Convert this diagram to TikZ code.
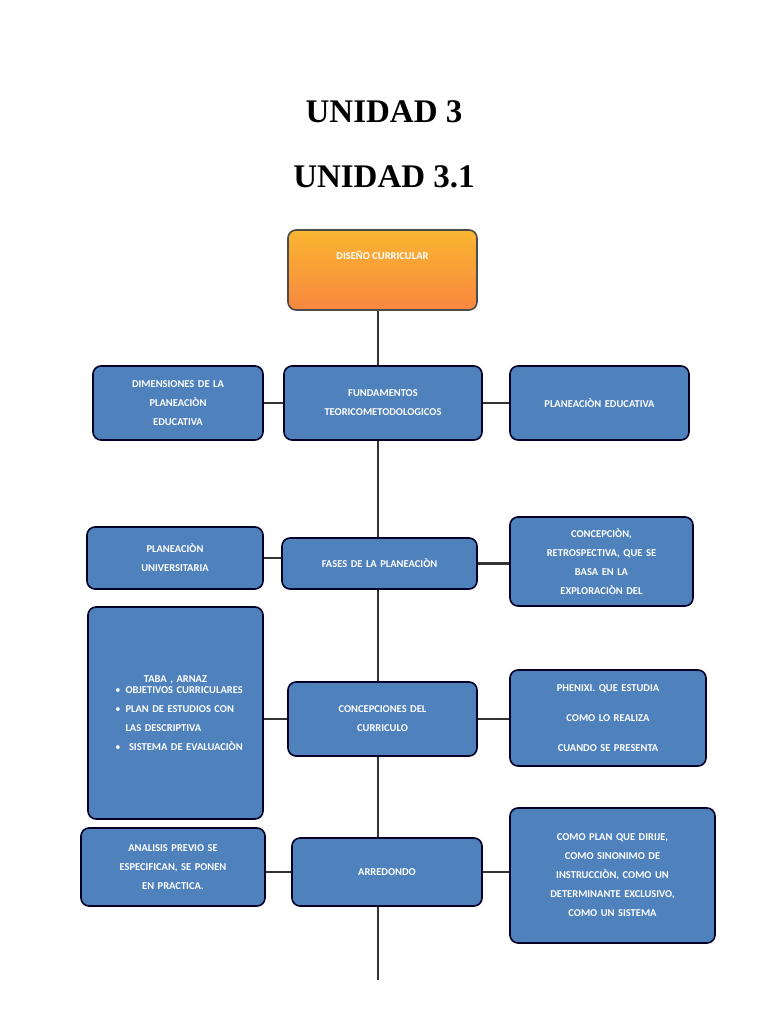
\documentclass[tikz,border=0pt]{standalone}
\usepackage{fontspec}
\setmainfont{Carlito}
\newfontfamily\titlefont{Liberation Serif}
\begin{document}
\begin{tikzpicture}[x=1pt,y=-1pt,
  bx/.style={draw=black!85!blue,line width=1.6pt,rounded corners=8pt,fill=blueA,text=white,font=\bfseries\fontsize{10.5}{19}\selectfont,align=center,inner sep=3pt},
  ln/.style={line width=2.2pt,black!80}]
\definecolor{blueA}{HTML}{4F81BD}
\definecolor{orA}{HTML}{F79646}
\useasboundingbox (0,0) rectangle (768,1024);
\fill[white] (0,0) rectangle (768,1024);
\node[font=\titlefont\bfseries\fontsize{33}{36}\selectfont] (t1) at (384,112) {UNIDAD 3};
\node[font=\titlefont\bfseries\fontsize{33}{36}\selectfont] (t2) at (384,177) {UNIDAD 3.1};
\coordinate (top) at (378,310);
\coordinate (bot) at (378,980);
\draw[ln] (top) -- (bot);
% boxes: name, x1,y1,x2,y2
\newcommand\bxx[6]{\node[bx,minimum width=#4-#2,minimum height=#5-#3,text width=#4-#2-14,#6] (#1) at ({(#2+#4)/2},{(#3+#5)/2})}
\node[bx,top color=orA!70!yellow,bottom color=orA!90!red,draw=black!70,minimum width=189,minimum height=80] (dc) at (382.5,270) {DISEÑO CURRICULAR\\[10pt]};
\bxx{dim}{93}{366}{263}{440}{}{DIMENSIONES DE LA\\PLANEACIÒN\\EDUCATIVA};
\bxx{fun}{284}{366}{482}{440}{}{FUNDAMENTOS\\TEORICOMETODOLOGICOS\\[6pt]};
\bxx{ped}{510}{366}{689}{440}{}{PLANEACIÒN EDUCATIVA\\[14pt]};
\bxx{pu}{87}{527}{263}{589}{}{PLANEACIÒN\\UNIVERSITARIA};
\bxx{fas}{282}{538}{477}{589}{}{FASES DE LA PLANEACIÒN\\[4pt]};
\bxx{con}{510}{517}{693}{606}{}{CONCEPCIÒN,\\RETROSPECTIVA, QUE SE\\BASA EN LA\\EXPLORACIÒN DEL};
\bxx{tab}{88}{607}{263}{819}{}{TABA , ARNAZ\\[2pt]
\begin{minipage}{150pt}\raggedright\bfseries\fontsize{10.5}{19}\selectfont
\begin{itemize}\setlength\itemsep{0pt}\setlength\parskip{0pt}\setlength\leftmargin{18pt}
\item OBJETIVOS CURRICULARES
\item PLAN DE ESTUDIOS CON LAS DESCRIPTIVA
\item \ SISTEMA DE EVALUACIÒN
\end{itemize}\end{minipage}};
\bxx{cdc}{288}{682}{477}{756}{}{CONCEPCIONES DEL\\CURRICULO};
\bxx{phe}{510}{670}{706}{766}{font=\bfseries\fontsize{10.5}{30}\selectfont}{PHENIXI. QUE ESTUDIA\\COMO LO REALIZA\\CUANDO SE PRESENTA};
\bxx{ana}{81}{828}{265}{906}{}{ANALISIS PREVIO SE\\ESPECIFICAN, SE PONEN\\EN PRACTICA.\\[6pt]};
\bxx{arr}{292}{838}{482}{906}{}{ARREDONDO\\[14pt]};
\bxx{cpl}{510}{808}{715}{943}{}{COMO PLAN QUE DIRIJE,\\COMO SINONIMO DE\\INSTRUCCIÒN, COMO UN\\DETERMINANTE EXCLUSIVO,\\COMO UN SISTEMA\\[18pt]};
\draw[ln] (dim) -- (fun); \draw[ln] (fun) -- (ped);
\draw[ln] (pu.east) -- (fas.west|-pu.east); \draw[ln] (fas) -- (con.west|-fas);
\draw[ln] (tab.east|-cdc) -- (cdc); \draw[ln] (cdc) -- (phe.west|-cdc);
\draw[ln] (ana.east|-arr) -- (arr); \draw[ln] (arr) -- (cpl.west|-arr);
\end{tikzpicture}
\end{document}
